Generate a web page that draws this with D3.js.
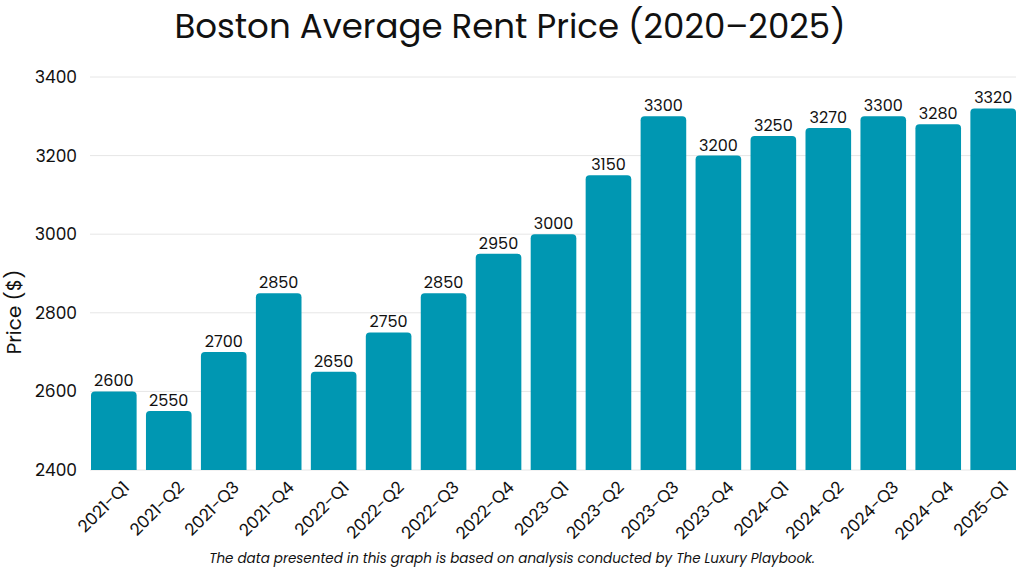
<!DOCTYPE html>
<html><head><meta charset="utf-8">
<script src="https://cdn.jsdelivr.net/npm/d3@7"></script>
<style>
body{margin:0;background:#fff;}
text{font-family:Poppins,"Open Sans","Noto Sans",sans-serif;fill:#111;}
</style></head>
<body>
<svg id="c" width="1024" height="576"></svg>
<script>
const categories = ["2021-Q1","2021-Q2","2021-Q3","2021-Q4","2022-Q1","2022-Q2","2022-Q3","2022-Q4","2023-Q1","2023-Q2","2023-Q3","2023-Q4","2024-Q1","2024-Q2","2024-Q3","2024-Q4","2025-Q1"];
const prices = [2600,2550,2700,2850,2650,2750,2850,2950,3000,3150,3300,3200,3250,3270,3300,3280,3320];
const yTicks = [2400,2600,2800,3000,3200,3400];
const title = "Boston Average Rent Price (2020\u20132025)";
const yLabel = "Price ($)";
const footnote = "The data presented in this graph is based on analysis conducted by The Luxury Playbook.";

(function () {
const svg = d3.select("#c");
const mL = 91, mR = 1016, mT = 77, mB = 470;
const x = d3.scaleBand().domain(categories).range([mL, mR]).paddingInner(0.17).paddingOuter(0);
const y = d3.scaleLinear().domain([2400, 3400]).range([mB, mT]);

svg.append("g").selectAll("line").data(yTicks).join("line")
  .attr("x1", mL - 1).attr("x2", mR).attr("y1", d => y(d)).attr("y2", d => y(d))
  .attr("stroke", "#e6e6e6").attr("stroke-width", 1);

svg.append("g").selectAll("text").data(yTicks).join("text")
  .attr("x", 77).attr("y", d => y(d)).attr("dy", "0.35em")
  .attr("text-anchor", "end").attr("font-size", 17).text(d => d);

const r = 4;
svg.append("g").selectAll("path").data(prices).join("path")
  .attr("fill", "#0097b2")
  .attr("d", (d, i) => {
    const x0 = x(categories[i]), w = x.bandwidth(), y0 = y(d), y1 = y(2400);
    return `M${x0},${y1}V${y0 + r}Q${x0},${y0} ${x0 + r},${y0}H${x0 + w - r}Q${x0 + w},${y0} ${x0 + w},${y0 + r}V${y1}Z`;
  });

svg.append("g").selectAll("text").data(prices).join("text")
  .attr("x", (d, i) => x(categories[i]) + x.bandwidth() / 2)
  .attr("y", d => y(d) - 5)
  .attr("text-anchor", "middle").attr("font-size", 16).text(d => d);

svg.append("g").selectAll("text").data(categories).join("text")
  .attr("transform", d => `translate(${x(d) + x.bandwidth() / 2 + 8},${mB + 10}) rotate(-45)`)
  .attr("text-anchor", "end").attr("dy", "0.7em").attr("font-size", 17).text(d => d);

svg.append("text").attr("x", 510).attr("y", 38).attr("text-anchor", "middle")
  .attr("font-size", 34).text(title);

svg.append("text").attr("transform", "translate(21,312) rotate(-90)")
  .attr("text-anchor", "middle").attr("font-size", 20).text(yLabel);

svg.append("text").attr("x", 512).attr("y", 563).attr("text-anchor", "middle")
  .attr("font-size", 13.5).attr("font-style", "italic").attr("fill", "#222").text(footnote);
})();
</script>
</body></html>
